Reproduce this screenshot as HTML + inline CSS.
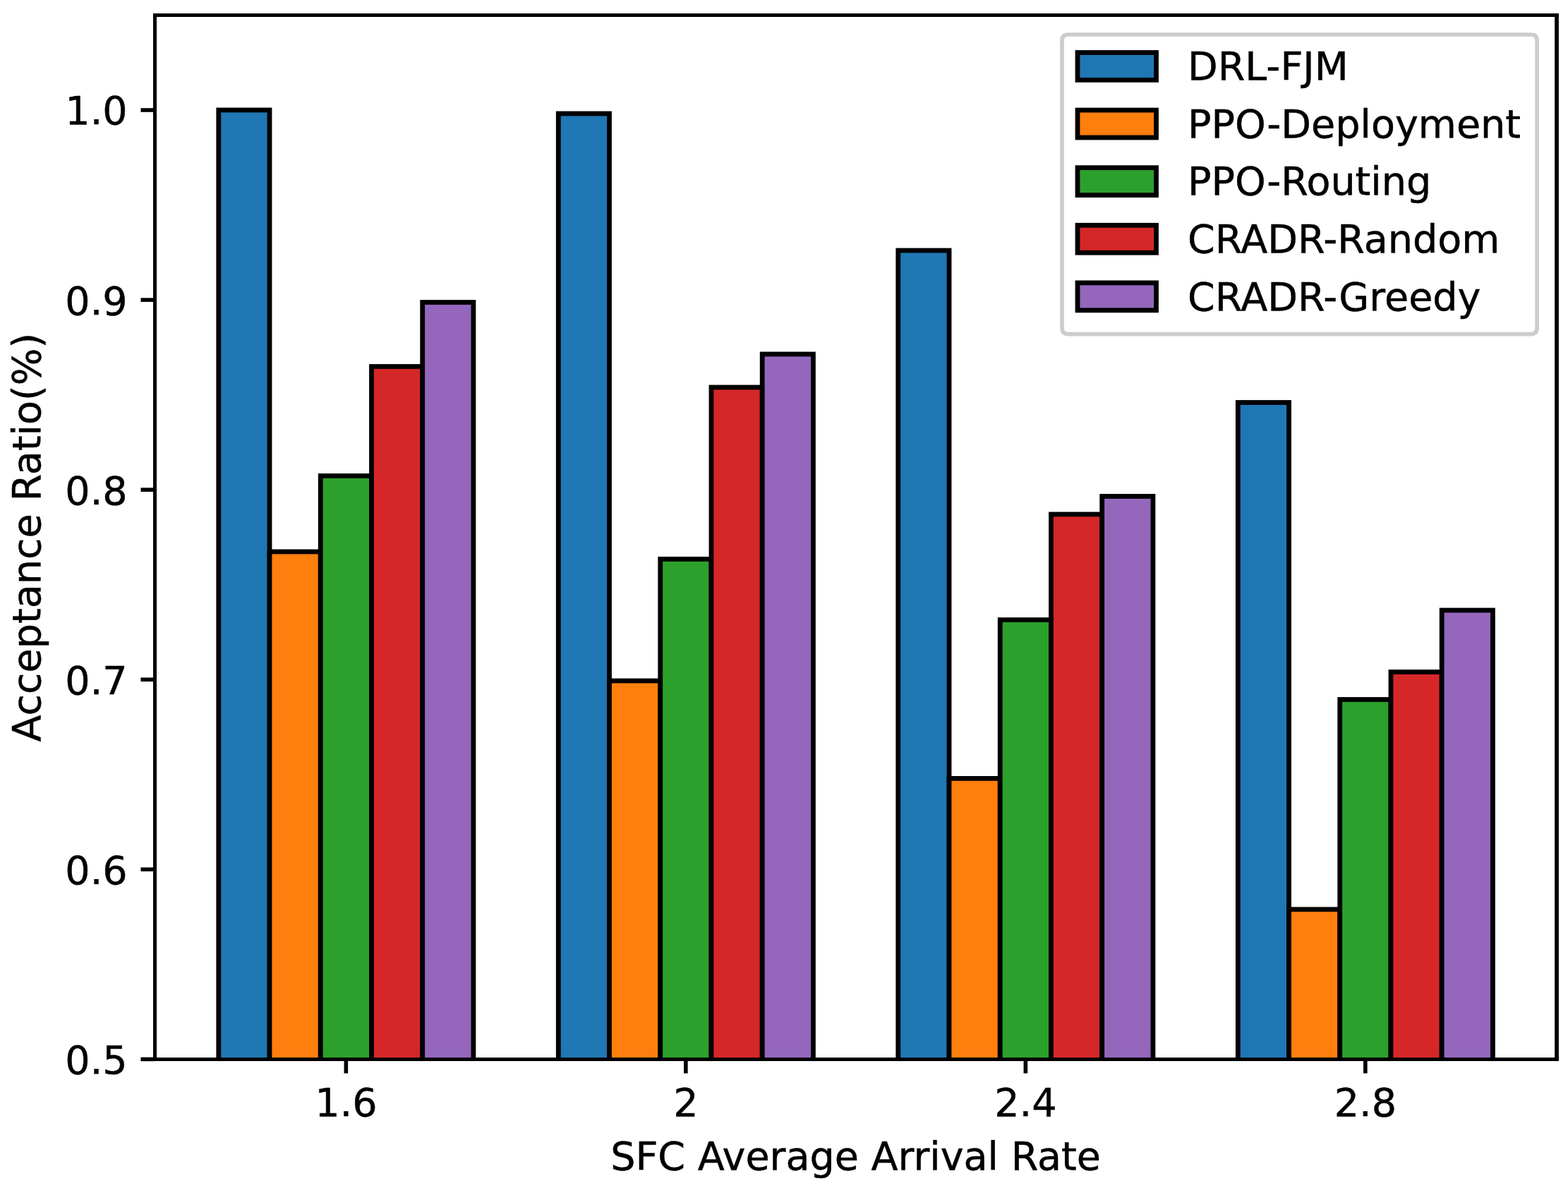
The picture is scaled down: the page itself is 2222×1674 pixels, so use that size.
<!DOCTYPE html>
<html><head><meta charset="utf-8"><title>Acceptance Ratio vs SFC Average Arrival Rate</title>
<style>
html,body{margin:0;padding:0;background:#fff;}
body{width:2222px;height:1674px;overflow:hidden;}
svg{display:block;}
svg text{font-family:"DejaVu Sans","Liberation Sans",sans-serif;font-size:55.56px;fill:#000;stroke:#000;stroke-width:0.5px;}
</style></head>
<body>
<svg width="2222" height="1674" viewBox="0 0 2222 1674">
<defs><clipPath id="ax"><rect x="219.5" y="21.5" width="1986.20" height="1479.90"/></clipPath></defs>
<rect x="0" y="0" width="2222" height="1674" fill="#ffffff"/>
<rect x="309.78" y="156.00" width="72.23" height="1375.40" fill="#1f77b4" stroke="#000" stroke-width="6.8" clip-path="url(#ax)"/>
<rect x="382.01" y="782.00" width="72.23" height="749.40" fill="#ff7f0e" stroke="#000" stroke-width="6.8" clip-path="url(#ax)"/>
<rect x="454.23" y="674.50" width="72.23" height="856.90" fill="#2ca02c" stroke="#000" stroke-width="6.8" clip-path="url(#ax)"/>
<rect x="526.46" y="519.50" width="72.23" height="1011.90" fill="#d62728" stroke="#000" stroke-width="6.8" clip-path="url(#ax)"/>
<rect x="598.68" y="428.50" width="72.23" height="1102.90" fill="#9467bd" stroke="#000" stroke-width="6.8" clip-path="url(#ax)"/>
<rect x="791.28" y="161.00" width="72.23" height="1370.40" fill="#1f77b4" stroke="#000" stroke-width="6.8" clip-path="url(#ax)"/>
<rect x="863.51" y="965.00" width="72.23" height="566.40" fill="#ff7f0e" stroke="#000" stroke-width="6.8" clip-path="url(#ax)"/>
<rect x="935.74" y="792.50" width="72.23" height="738.90" fill="#2ca02c" stroke="#000" stroke-width="6.8" clip-path="url(#ax)"/>
<rect x="1007.96" y="549.00" width="72.23" height="982.40" fill="#d62728" stroke="#000" stroke-width="6.8" clip-path="url(#ax)"/>
<rect x="1080.19" y="502.00" width="72.23" height="1029.40" fill="#9467bd" stroke="#000" stroke-width="6.8" clip-path="url(#ax)"/>
<rect x="1272.79" y="355.00" width="72.23" height="1176.40" fill="#1f77b4" stroke="#000" stroke-width="6.8" clip-path="url(#ax)"/>
<rect x="1345.01" y="1103.40" width="72.23" height="428.00" fill="#ff7f0e" stroke="#000" stroke-width="6.8" clip-path="url(#ax)"/>
<rect x="1417.24" y="878.60" width="72.23" height="652.80" fill="#2ca02c" stroke="#000" stroke-width="6.8" clip-path="url(#ax)"/>
<rect x="1489.46" y="729.00" width="72.23" height="802.40" fill="#d62728" stroke="#000" stroke-width="6.8" clip-path="url(#ax)"/>
<rect x="1561.69" y="703.50" width="72.23" height="827.90" fill="#9467bd" stroke="#000" stroke-width="6.8" clip-path="url(#ax)"/>
<rect x="1754.29" y="570.50" width="72.23" height="960.90" fill="#1f77b4" stroke="#000" stroke-width="6.8" clip-path="url(#ax)"/>
<rect x="1826.52" y="1289.00" width="72.23" height="242.40" fill="#ff7f0e" stroke="#000" stroke-width="6.8" clip-path="url(#ax)"/>
<rect x="1898.74" y="991.50" width="72.23" height="539.90" fill="#2ca02c" stroke="#000" stroke-width="6.8" clip-path="url(#ax)"/>
<rect x="1970.97" y="952.50" width="72.23" height="578.90" fill="#d62728" stroke="#000" stroke-width="6.8" clip-path="url(#ax)"/>
<rect x="2043.19" y="865.00" width="72.23" height="666.40" fill="#9467bd" stroke="#000" stroke-width="6.8" clip-path="url(#ax)"/>
<path d="M2206.00,21.50 L219.50,21.50 L219.50,1501.40 L2206.00,1501.40" fill="none" stroke="#000" stroke-width="5.0" stroke-linejoin="miter" stroke-linecap="square"/>
<line x1="2206.00" y1="19.00" x2="2206.00" y2="1503.90" stroke="#000" stroke-width="5.8"/>
<line x1="219.50" y1="1501.40" x2="199.50" y2="1501.40" stroke="#000" stroke-width="5.6"/>
<text x="180.7" y="1521.80" text-anchor="end">0.5</text>
<line x1="219.50" y1="1232.33" x2="199.50" y2="1232.33" stroke="#000" stroke-width="5.6"/>
<text x="180.7" y="1252.73" text-anchor="end">0.6</text>
<line x1="219.50" y1="963.25" x2="199.50" y2="963.25" stroke="#000" stroke-width="5.6"/>
<text x="180.7" y="983.65" text-anchor="end">0.7</text>
<line x1="219.50" y1="694.18" x2="199.50" y2="694.18" stroke="#000" stroke-width="5.6"/>
<text x="180.7" y="714.58" text-anchor="end">0.8</text>
<line x1="219.50" y1="425.11" x2="199.50" y2="425.11" stroke="#000" stroke-width="5.6"/>
<text x="180.7" y="445.51" text-anchor="end">0.9</text>
<line x1="219.50" y1="156.04" x2="199.50" y2="156.04" stroke="#000" stroke-width="5.6"/>
<text x="180.7" y="176.44" text-anchor="end">1.0</text>
<line x1="490.35" y1="1501.40" x2="490.35" y2="1521.40" stroke="#000" stroke-width="5.6"/>
<text x="490.35" y="1582.0" text-anchor="middle">1.6</text>
<line x1="971.85" y1="1501.40" x2="971.85" y2="1521.40" stroke="#000" stroke-width="5.6"/>
<text x="971.85" y="1582.0" text-anchor="middle">2</text>
<line x1="1453.35" y1="1501.40" x2="1453.35" y2="1521.40" stroke="#000" stroke-width="5.6"/>
<text x="1453.35" y="1582.0" text-anchor="middle">2.4</text>
<line x1="1934.85" y1="1501.40" x2="1934.85" y2="1521.40" stroke="#000" stroke-width="5.6"/>
<text x="1934.85" y="1582.0" text-anchor="middle">2.8</text>
<text x="1212.6" y="1657.8" text-anchor="middle">SFC Average Arrival Rate</text>
<text transform="translate(57.0,761.7) rotate(-90)" x="0" y="0" text-anchor="middle">Acceptance Ratio(%)</text>
<path d="M1513.50,49.00 L2169.60,49.00 Q2178.10,49.00 2178.10,57.50 L2178.10,465.10 Q2178.10,473.60 2169.60,473.60 L1513.50,473.60 Q1505.00,473.60 1505.00,465.10 L1505.00,57.50 Q1505.00,49.00 1513.50,49.00 Z" fill="#ffffff" fill-opacity="0.8" stroke="#cccccc" stroke-width="5.6"/>
<rect x="1527.0" y="74.50" width="111.5" height="38.9" fill="#1f77b4" stroke="#000" stroke-width="6.8"/>
<text x="1683.0" y="113.20">DRL-FJM</text>
<rect x="1527.0" y="156.10" width="111.5" height="38.9" fill="#ff7f0e" stroke="#000" stroke-width="6.8"/>
<text x="1683.0" y="194.80">PPO-Deployment</text>
<rect x="1527.0" y="237.70" width="111.5" height="38.9" fill="#2ca02c" stroke="#000" stroke-width="6.8"/>
<text x="1683.0" y="276.40">PPO-Routing</text>
<rect x="1527.0" y="319.30" width="111.5" height="38.9" fill="#d62728" stroke="#000" stroke-width="6.8"/>
<text x="1683.0" y="358.00">CRADR-Random</text>
<rect x="1527.0" y="400.90" width="111.5" height="38.9" fill="#9467bd" stroke="#000" stroke-width="6.8"/>
<text x="1683.0" y="439.60">CRADR-Greedy</text>
</svg>
</body></html>
